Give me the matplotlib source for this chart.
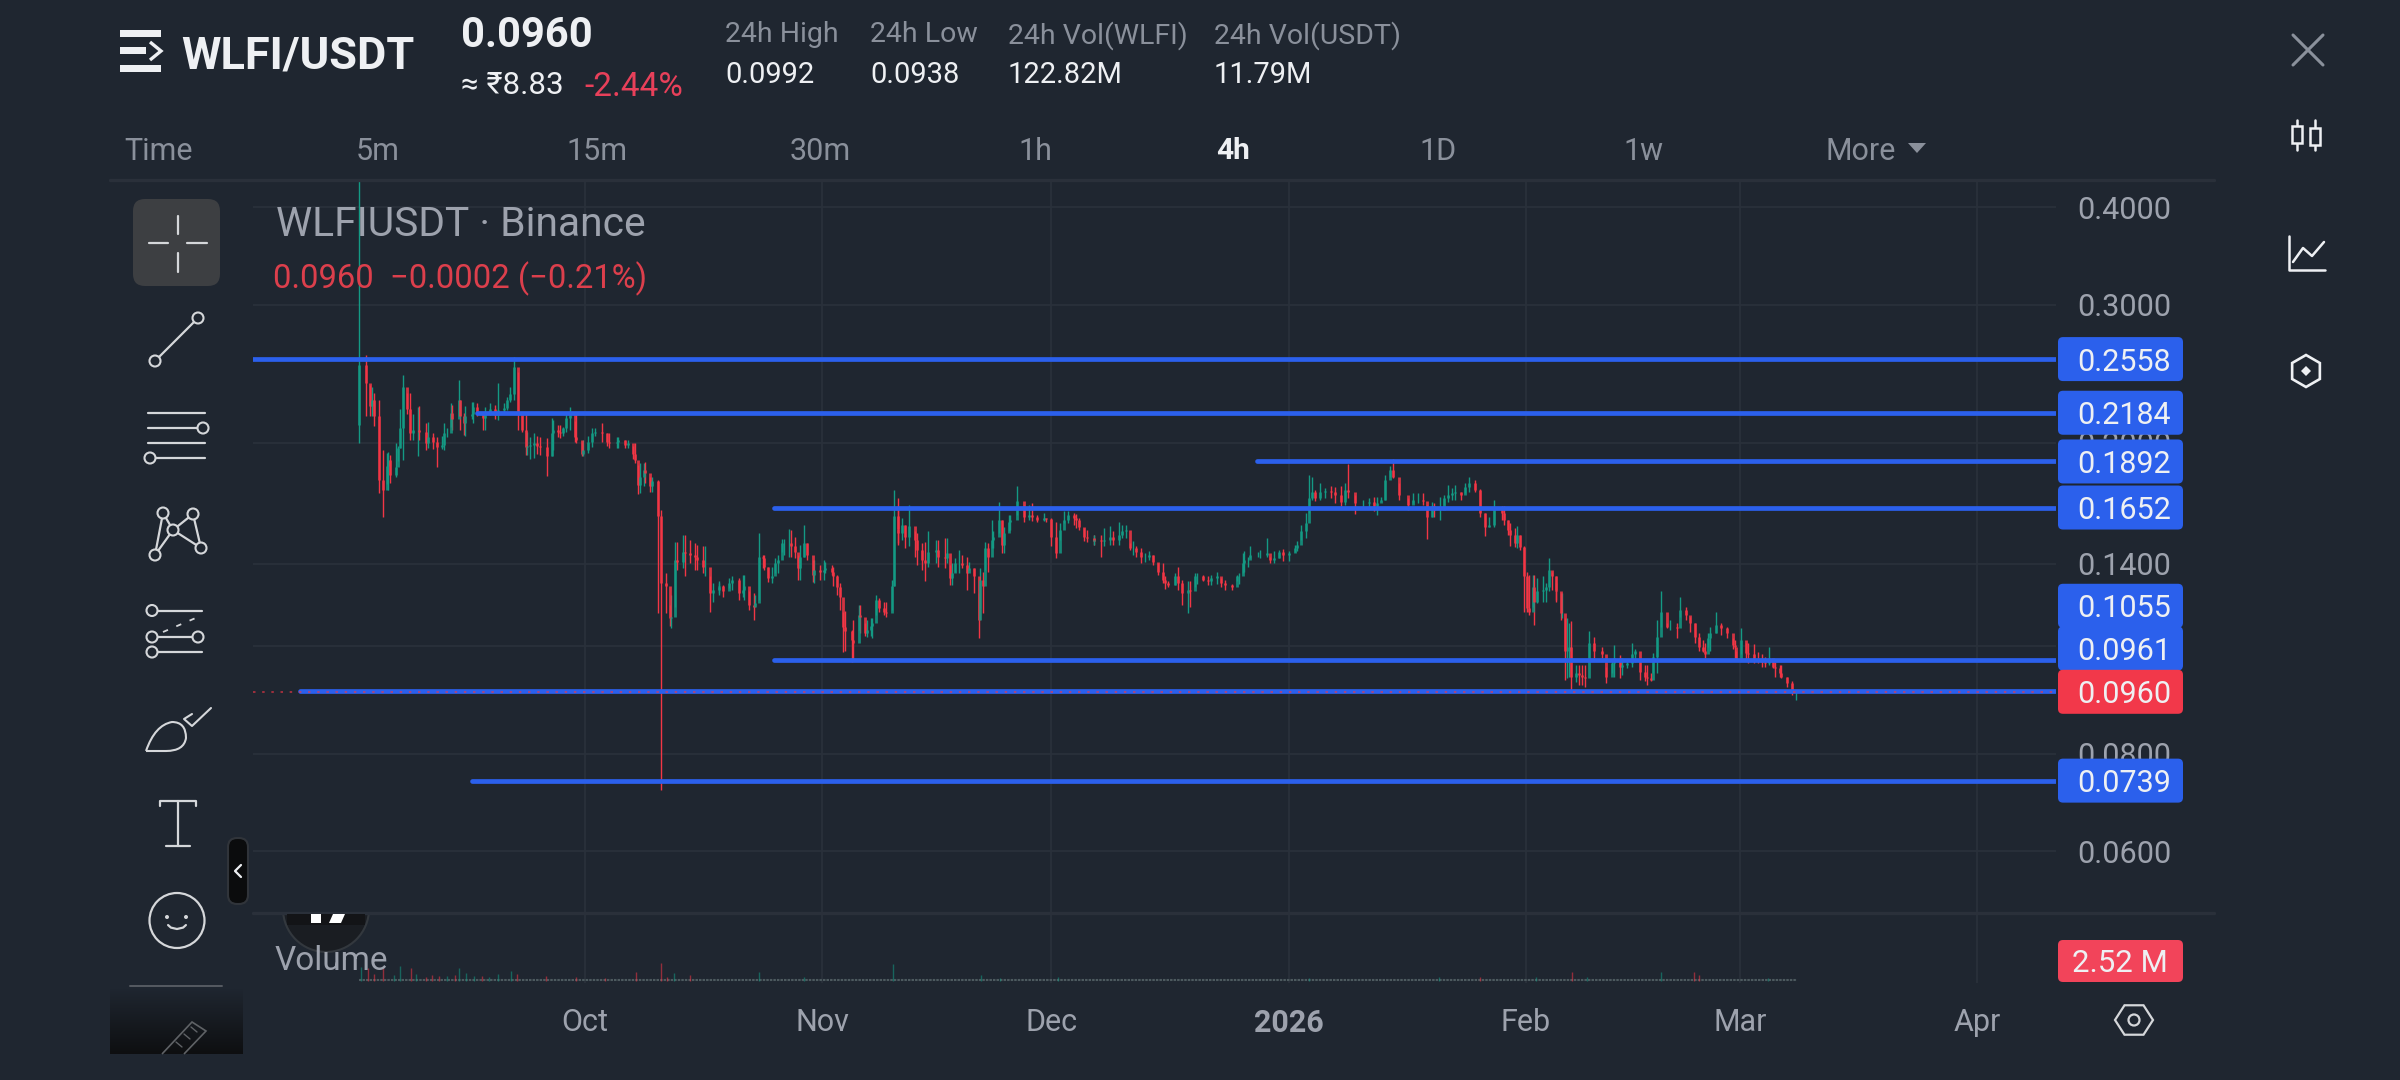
import datetime as dt
import numpy as np
import matplotlib
matplotlib.use("Agg")
import matplotlib.pyplot as plt
import matplotlib.dates as mdates
from matplotlib.patches import FancyBboxPatch, Circle, Wedge, Rectangle, Polygon, PathPatch
from matplotlib.path import Path

plt.rcParams['font.family'] = ['Roboto', 'DejaVu Sans']

# ---------- data ----------
candle_days = [0.0,0.9,1.7,2.6,3.1,3.8,4.8,5.7,6.7,7.7,8.8,10.2,11.1,12.0,13.0,13.7,14.9,16.4,18.1,19.3,
 20.3,20.8,21.8,22.8,23.7,24.5,25.4,26.3,27.5,28.4,29.2,30.4,31.8,32.7,33.9,35.1,36.0,36.7,37.4,38.3,
 39.1,39.5,40.1,40.8,41.3,42.6,43.9,45.2,45.9,47.1,48.8,50.3,51.6,52.3,52.9,54.0,54.7,55.6,56.4,57.6,
 58.2,59.5,60.8,62.0,62.9,63.3,64.6,65.5,66.4,67.1,67.5,68.9,69.6,69.9,70.4,71.9,72.9,74.0,75.7,76.8,
 77.5,78.4,79.5,80.4,81.0,81.5,82.2,82.7,83.7,84.3,85.1,86.0,
 88.0,89.8,91.1,91.6,92.7,93.7,94.8,96.0,97.0,98.2,99.3,100.3,101.2,102.2,103.3,104.4,105.4,106.6,107.5,108.3,
 109.5,110.9,112.1,113.2,114.1,115.0,115.7,116.5,117.7,118.7,119.6,120.8,121.6,122.6,123.8,124.2,124.5,125.6,127.0,128.4,
 129.2,130.2,132.0,133.1,134.1,134.8,135.2,135.9,137.1,138.4,139.6,140.5,141.3,142.3,143.3,144.0,145.1,145.8,146.5,147.2,
 148.4,149.4,150.4,151.3,152.2,152.9,153.6,154.7,155.5,156.4,157.2,157.9,158.4,159.5,160.2,160.7,161.4,162.5,163.0,164.0,
 165.1,166.4,167.4,168.3,168.8,169.6,170.2,171.3,172.2,172.7,173.4,174.6,175.6,175.9,176.6,177.4,178.8,179.8,180.6,181.5,
 182.3,183.4,184.3,185.1,185.9,186.6,187.3,187.8]
highs = [.46,.2589,.2358,.2268,.1957,.1947,.1996,.2441,.2313,.2224,.2117,.2036,.2117,.2246,.2405,.2181,.2257,.2224,.2382,.2290,
 .2572,.2465,.2181,.2056,.2036,.2026,.2138,.2107,.2224,.2181,.2016,.2086,.2122,.2056,.2036,.2016,.1996,.1882,.1888,.1809,
 .1792,.1640,.1361,.1277,.1494,.1524,.1487,.1473,.1349,.1329,.1352,.1356,.1283,.1534,.1437,.1388,.1437,.1504,.1545,.1480,
 .1567,.1416,.1416,.1388,.1323,.1216,.1186,.1240,.1186,.1192,.1277,.1252,.1336,.1740,.1697,.1665,.1534,.1494,.1501,.1509,
 .1402,.1458,.1430,.1382,.1283,.1368,.1487,.1593,.1680,.1562,.1618,.1762,
 .1673,.1602,.1584,.1578,.1635,.1621,.1555,.1524,.1524,.1565,.1584,.1570,.1495,.1466,.1452,.1405,.1349,.1364,.1336,.1329,
 .1361,.1349,.1368,.1336,.1320,.1361,.1452,.1476,.1459,.1509,.1452,.1462,.1452,.1495,.1625,.1818,.1809,.1775,.1758,.1758,
 .1880,.1714,.1697,.1702,.1818,.1868,.1906,.1775,.1697,.1726,.1665,.1673,.1705,.1766,.1766,.1730,.1806,.1791,.1747,.1625,
 .1690,.1660,.1578,.1565,.1473,.1355,.1355,.1349,.1423,.1349,.1283,.1193,.1181,.1039,.1039,.1148,.1129,.1096,.1034,.1102,
 .1060,.1107,.1060,.1039,.1014,.1186,.1292,.1186,.1175,.1270,.1234,.1175,.1118,.1107,.1163,.1216,.1163,.1118,.1158,.1107,
 .1105,.1073,.1096,.1049,.1039,.1004,.0990,.0960]
lows = [.1996,.2160,.2160,.1722,.1606,.1740,.1809,.1900,.2016,.1920,.1957,.1864,.1957,.2097,.2160,.2046,.2117,.2076,.2138,.2202,
 .2268,.2076,.1929,.1910,.1929,.1813,.1957,.2026,.2076,.1996,.1923,.1976,.2006,.1966,.1966,.1966,.1882,.1722,.1775,.1731,
 .1212,.0719,.1212,.1158,.1234,.1349,.1375,.1349,.1216,.1277,.1297,.1258,.1186,.1258,.1375,.1323,.1361,.1437,.1430,.1336,
 .1430,.1323,.1336,.1310,.1222,.1078,.1058,.1141,.1129,.1124,.1204,.1198,.1222,.1310,.1480,.1473,.1395,.1329,.1388,.1402,
 .1315,.1361,.1297,.1283,.1126,.1212,.1368,.1466,.1531,.1444,.1545,.1618,
 .1587,.1584,.1424,.1502,.1578,.1555,.1495,.1480,.1430,.1480,.1480,.1509,.1437,.1405,.1416,.1355,.1299,.1315,.1240,.1212,
 .1320,.1315,.1320,.1294,.1297,.1320,.1368,.1423,.1423,.1430,.1405,.1413,.1413,.1452,.1509,.1625,.1690,.1690,.1697,.1660,
 .1697,.1621,.1648,.1616,.1690,.1809,.1800,.1690,.1641,.1673,.1507,.1608,.1592,.1680,.1690,.1690,.1730,.1730,.1608,.1521,
 .1562,.1592,.1473,.1466,.1216,.1204,.1169,.1252,.1292,.1252,.1193,.0999,.0965,.0980,.0975,.1060,.1060,.1060,.0985,.1004,
 .1009,.1034,.0995,.0980,.0990,.1014,.1163,.1152,.1124,.1198,.1186,.1107,.1078,.1060,.1084,.1141,.1124,.1060,.1073,.1044,
 .1044,.1034,.1039,.1004,.0999,.0975,.0951,.0938]
closes = [.2514,.2382,.2268,.1792,.1740,.1900,.1864,.2358,.2056,.2076,.1996,.1976,.2056,.2181,.2268,.2117,.2224,.2181,.2202,.2268,
 .2502,.2181,.1976,.1996,.1976,.1920,.2076,.2056,.2181,.2016,.1957,.2056,.2056,.1996,.2016,.1996,.1900,.1809,.1827,.1784,
 .1611,.1323,.1310,.1198,.1416,.1444,.1430,.1388,.1283,.1310,.1336,.1310,.1234,.1430,.1388,.1349,.1416,.1487,.1473,.1430,
 .1487,.1375,.1375,.1349,.1271,.1163,.1108,.1198,.1152,.1175,.1258,.1210,.1310,.1611,.1550,.1565,.1458,.1402,.1430,.1444,
 .1361,.1402,.1361,.1349,.1186,.1310,.1430,.1501,.1593,.1531,.1593,.1682,
 .1608,.1595,.1444,.1547,.1616,.1592,.1516,.1495,.1495,.1516,.1524,.1547,.1466,.1430,.1437,.1368,.1323,.1349,.1283,.1297,
 .1349,.1329,.1349,.1315,.1309,.1349,.1416,.1437,.1437,.1444,.1423,.1437,.1444,.1480,.1578,.1697,.1730,.1730,.1730,.1680,
 .1730,.1673,.1680,.1673,.1791,.1845,.1809,.1714,.1665,.1690,.1608,.1641,.1641,.1714,.1730,.1714,.1775,.1738,.1625,.1562,
 .1648,.1625,.1524,.1524,.1349,.1216,.1252,.1297,.1375,.1297,.1210,.1084,.1004,.1009,.0999,.1107,.1084,.1073,.1004,.1060,
 .1039,.1073,.1019,.0999,.0995,.1129,.1216,.1163,.1158,.1222,.1204,.1129,.1084,.1073,.1141,.1169,.1141,.1096,.1118,.1073,
 .1058,.1049,.1060,.1029,.1004,.0985,.0960,.0960]

extra_days = [1.4,1.96,3.6,4.05,5.05,5.4,6.2,7.0,7.85,9.06,9.7,10.8,11.5,12.1,13.2,13.9,14.7,15.4,16.2,17.1,17.7,18.9,19.7,
 21.3,21.9,22.3,23.3,25.2,26.05,26.7,27.06,28.2,29.1,29.95,30.85,32.4,33.7,34.8,35.85,36.5,37.2,38.0,
 40.65,41.5,42.4,43.3,44.1,45.0,46.3,47.0,47.6,48.3,49.6,50.2,51.0,51.8,52.85,53.5,54.4,55.25,56.25,57.0,57.4,58.5,59.3,60.2,60.9,61.8,62.45,
 63.5,64.4,65.4,66.15,66.9,67.9,68.6,70.45,70.9,71.4,72.6,73.6,74.4,75.4,76.6,77.25,77.9,78.8,79.7,81.2,81.8,82.8,84.0,84.9,
 86.85,87.5,88.6,89.5,90.5,92.1,93.4,94.1,95.1,96.05,97.3,98.6,99.7,100.75,101.6,102.7,103.8,105.1,105.7,107.05,108.6,109.2,110.3,111.4,112.7,
 114.7,115.5,116.2,117.5,119.1,120.3,122.3,123.1,124.9,126.2,127.5,128.8,131.2,132.7,133.6,
 137.8,139.06,140.2,141.75,142.8,144.6,147.75,149.6,150.2,151.1,151.7,152.6,153.5,154.0,155.1,155.9,156.5,157.05,157.6,158.2,159.1,159.9,
 163.7,164.8,165.7,166.75,168.05,169.1,170.9,173.9,175.2,176.3,178.05,179.6,180.0,181.3,182.85,183.7,184.8,185.7]
extra_highs = [.2370,.2314,.1938,.1929,.1978,.2206,.2315,.2178,.2230,.2125,.2059,.2037,.2085,.2235,.2270,.2230,.2256,.2245,.2175,.2245,.2235,.2245,.2358,
 .2160,.2066,.2033,.2037,.2150,.2107,.2095,.2178,.2133,.2006,.2037,.2085,.2059,.2033,.2016,.1978,.1873,.1886,.1810,
 .1240,.1494,.1524,.1502,.1480,.1476,.1322,.1322,.1315,.1342,.1342,.1355,.1290,.1277,.1437,.1388,.1423,.1504,.1551,.1516,.1437,.1487,.1416,.1395,.1409,.1395,.1355,
 .1218,.1152,.1240,.1175,.1192,.1264,.1252,.1640,.1600,.1570,.1540,.1487,.1540,.1502,.1509,.1395,.1423,.1437,.1409,.1382,.1494,.1540,.1593,.1616,
 .1665,.1665,.1616,.1624,.1600,.1633,.1624,.1600,.1547,.1524,.1555,.1540,.1570,.1487,.1473,.1444,.1437,.1402,.1329,.1388,.1329,.1361,.1355,.1355,.1342,
 .1355,.1444,.1430,.1451,.1430,.1459,.1480,.1570,.1740,.1749,.1757,.1775,.1690,.1705,.1705,
 .1723,.1723,.1677,.1714,.1749,.1775,.1608,.1657,.1592,.1555,.1524,.1368,.1355,.1342,.1322,.1368,.1322,.1283,.1192,.1175,.1039,.1039,
 .1058,.1070,.1053,.1090,.1039,.1077,.1175,.1198,.1140,.1140,.1175,.1124,.1084,.1108,.1078,.1065,.1053,.1039]
extra_lows = [.2160,.2098,.1768,.1775,.1894,.1971,.2178,.2016,.2016,.1971,.1961,.1961,.2031,.2076,.2076,.2039,.2141,.2160,.2076,.2170,.2141,.2175,.2256,
 .2066,.1929,.1908,.1936,.1920,.2031,.2037,.2066,.2006,.1920,.1938,.2037,.1978,.1971,.1971,.1908,.1717,.1762,.1727,
 .1164,.1375,.1382,.1402,.1375,.1362,.1252,.1283,.1271,.1302,.1258,.1271,.1222,.1238,.1382,.1328,.1362,.1451,.1430,.1423,.1335,.1416,.1328,.1335,.1362,.1355,.1277,
 .1083,.1049,.1152,.1130,.1130,.1216,.1204,.1489,.1502,.1465,.1430,.1375,.1388,.1402,.1382,.1315,.1368,.1382,.1375,.1228,.1375,.1465,.1444,.1540,
 .1585,.1592,.1585,.1589,.1473,.1577,.1570,.1547,.1494,.1480,.1473,.1480,.1509,.1459,.1430,.1409,.1395,.1322,.1309,.1296,.1234,.1309,.1329,.1315,.1309,
 .1329,.1361,.1388,.1427,.1405,.1423,.1451,.1502,.1682,.1697,.1673,.1665,.1657,.1633,.1682,
 .1673,.1665,.1608,.1665,.1690,.1723,.1562,.1570,.1524,.1470,.1459,.1216,.1234,.1246,.1252,.1296,.1258,.1186,.0995,.1004,.0989,.0980,
 .1014,.0999,.1029,.1048,.0990,.1014,.1157,.1145,.1084,.1096,.1135,.1090,.1053,.1053,.1044,.1034,.1029,.1004]
extra_closes = [.2230,.2160,.1865,.1818,.1971,.2085,.2206,.2076,.2066,.2033,.2003,.1986,.2059,.2141,.2160,.2160,.2175,.2187,.2150,.2206,.2170,.2215,.2309,
 .2076,.1978,.1986,.1978,.2059,.2066,.2085,.2150,.2033,.1936,.2006,.2066,.2003,.2003,.1986,.1936,.1766,.1845,.1762,
 .1192,.1409,.1451,.1437,.1416,.1388,.1296,.1309,.1290,.1322,.1283,.1296,.1240,.1246,.1423,.1342,.1402,.1487,.1487,.1451,.1382,.1437,.1355,.1368,.1382,.1368,.1309,
 .1147,.1118,.1204,.1141,.1164,.1228,.1216,.1531,.1570,.1516,.1502,.1416,.1451,.1458,.1423,.1342,.1402,.1395,.1382,.1335,.1465,.1516,.1480,.1585,
 .1608,.1616,.1592,.1600,.1516,.1592,.1600,.1562,.1509,.1502,.1502,.1502,.1540,.1466,.1451,.1430,.1409,.1335,.1315,.1322,.1290,.1349,.1335,.1342,.1322,
 .1349,.1402,.1416,.1437,.1416,.1451,.1466,.1540,.1697,.1732,.1714,.1740,.1673,.1657,.1690,
 .1690,.1682,.1657,.1697,.1723,.1757,.1570,.1592,.1547,.1487,.1470,.1228,.1309,.1290,.1309,.1349,.1290,.1210,.1084,.1096,.1014,.1004,
 .1044,.1034,.1044,.1084,.1004,.1065,.1163,.1175,.1096,.1124,.1157,.1102,.1058,.1075,.1053,.1044,.1034,.1014]
first_open = .2107
assert len(candle_days) == len(highs) == len(lows) == len(closes)
assert len(extra_days) == len(extra_highs) == len(extra_lows) == len(extra_closes), (len(extra_days), len(extra_highs), len(extra_lows), len(extra_closes))

vol_days = [0.2,1.1,2.0,3.1,4.5,5.4,6.8,7.5,8.7,9.5,10.4,11.5,12.5,13.1,14,15,16,17,18.2,19.9,20.7,24.4,28.4,32.2,36.2,
            39.5,40.2,41.2,43.2,52.3,58.2,69.8,81.3,83.8,91.4,124.2,141.2,146.5,153.8,158.5,160.5,170.2,174.5,175.2,184.1]
vol_vals = [420,390,200,390,180,450,390,210,120,180,150,150,180,390,240,150,150,120,210,300,210,150,120,90,270,
            540,120,240,180,270,120,510,180,90,120,90,120,120,120,270,120,270,270,180,90]
typical_vol = 60
first_day, last_day = 0.0, 188.0

level_prices = [.2558,.2184,.1892,.1652,.1055,.0961,.0739]
level_start_days = [-14.0,15.4,117.3,54.2,54.2,-7.7,14.8]
last_price = .0960

tag_labels = ['0.2558','0.2184','0.1892','0.1652','0.1055','0.0961','0.0960','0.0739']
tag_prices = [.2558,.2184,.1892,.1652,.1055,.0961,.0960,.0739]
tag_shift = [0,0,0,0,-54,-43,0,0]
tag_colors = ['b','b','b','b','b','b','r','b']

y_ticks = [.4,.3,.2,.14,.11,.08,.06]
y_tick_labels = ['0.4000','0.3000','0.2000','0.1400','0.1100','0.0800','0.0600']
month_dates = [dt.datetime(2025,10,1),dt.datetime(2025,11,1),dt.datetime(2025,12,1),dt.datetime(2026,1,1),
               dt.datetime(2026,2,1),dt.datetime(2026,3,1),dt.datetime(2026,4,1)]
month_labels = ['Oct','Nov','Dec','2026','Feb','Mar','Apr']
intervals = ['Time','5m','15m','30m','1h','4h','1D','1w','More']
interval_x = [124,356,566,790,1018,1216,1419,1623,1825]
stat_heads = ['24h High','24h Low','24h Vol(WLFI)','24h Vol(USDT)']
stat_vals = ['0.0992','0.0938','122.82M','11.79M']
stat_x = [725,870,1008,1214]

# ---------- style ----------
BG = '#1f2630'; GRID = '#2a313b'; SEP = '#2a303a'
BLUE = '#2b60ec'; RED = '#f23645'; TEAL = '#149a84'
GRAY = '#9da2ad'; DIM = '#8a909b'; WHITE = '#eef0f3'; ICON = '#d5d7da'

W, H = 2400, 1080
fig = plt.figure(figsize=(24, 10.8), dpi=100, facecolor=BG)
L, R, T, B, VB = 253, 2056, 180, 913, 983
ax = fig.add_axes([L/W, 1-B/H, (R-L)/W, (B-T)/H], facecolor=BG)
axv = fig.add_axes([L/W, 1-VB/H, (R-L)/W, (VB-B)/H], facecolor='none')

base = mdates.date2num(dt.datetime(2025, 9, 1, 12))
to_x = lambda d: base + np.asarray(d, float)
xlim = (to_x(-13.87), to_x(221.8))

# ---------- price pane ----------
ax.set_yscale('log')
ax.set_ylim(0.05004, 0.4335)
ax.set_xlim(*xlim)
for s in ax.spines.values():
    s.set_visible(False)
ax.yaxis.tick_right()
ax.set_yticks(y_ticks)
ax.set_yticklabels(y_tick_labels)
ax.yaxis.set_minor_locator(matplotlib.ticker.NullLocator())
ax.tick_params(axis='y', length=0, pad=15, labelsize=22, labelcolor=GRAY)
ax.set_xticks(mdates.date2num(month_dates))
ax.tick_params(axis='x', length=0, labelbottom=False)
ax.grid(True, color=GRID, lw=1.2, zorder=0)
ax.set_axisbelow(True)

all_days = np.r_[candle_days, extra_days]
order = np.argsort(all_days)
days_sorted = all_days[order]
h = np.r_[highs, extra_highs][order]
l = np.r_[lows, extra_lows][order]
c = np.r_[closes, extra_closes][order]
o = np.r_[first_open, c[:-1]]
x = to_x(days_sorted)
cols = [TEAL if cc >= oo else RED for cc, oo in zip(c, o)]
ax.vlines(x, l, h, colors=cols, lw=1.0, zorder=3)
ax.vlines(x, np.minimum(o, c), np.maximum(o, c), colors=cols, lw=2.0, zorder=3, alpha=0.85)

for p, s in zip(level_prices, level_start_days):
    ax.plot([to_x(s), xlim[1]], [p, p], color=BLUE, lw=3.4, solid_capstyle='round', zorder=4)
ax.plot(xlim, [last_price, last_price], color=RED, lw=1.2, ls=(0, (1.5, 4)), zorder=5, alpha=0.7)

# ---------- volume pane ----------
axv.set_xlim(*xlim)
axv.set_ylim(-60, 2040)
for s in axv.spines.values():
    s.set_visible(False)
axv.set_yticks([])
axv.set_xticks(mdates.date2num(month_dates))
axv.set_xticklabels(month_labels)
axv.tick_params(axis='x', length=0, pad=18, labelsize=22, labelcolor=GRAY)
axv.get_xticklabels()[3].set_fontweight('bold')
axv.grid(True, axis='x', color=GRID, lw=1.2, zorder=0)
axv.set_axisbelow(True)
axv.plot(to_x([first_day, last_day]), [typical_vol/2]*2, color='#4d5a5f', lw=1.5, ls=(0, (1.2, 0.5)), zorder=2)
near = [cols[int(np.argmin(np.abs(days_sorted-d)))] for d in vol_days]
axv.vlines(to_x(vol_days), 0, vol_vals, colors=near, lw=1.0, alpha=0.55, zorder=3)

# ---------- overlay (interface) ----------
ui = fig.add_axes([0, 0, 1, 1], facecolor='none', zorder=10)
ui.set_xlim(0, W); ui.set_ylim(H, 0); ui.axis('off')

def px_y(p):
    return H - ax.transData.transform((xlim[0], p))[1]

def txt(xp, yp, s, size, color, weight='normal', ha='left'):
    ui.text(xp, yp, s, fontsize=size, color=color, fontweight=weight, ha=ha, va='center_baseline')

def seg(pts, lw=1.6, color=ICON, **kw):
    pts = np.array(pts)
    ui.plot(pts[:, 0], pts[:, 1], color=color, lw=lw, solid_capstyle='round', **kw)

def ring(xp, yp, r=6.5, lw=1.5):
    ui.add_patch(Circle((xp, yp), r, fc=BG, ec=ICON, lw=lw, zorder=6))

# separators
seg([(110, T), (2214, T)], lw=2.4, color=SEP)
seg([(L, B), (2214, B)], lw=2.4, color=SEP)

# header
for yy, xe in [(33.5, 161), (68, 161)]:
    ui.add_patch(Rectangle((120, yy-3.5), xe-120, 7, fc=WHITE, ec='none'))
ui.add_patch(Rectangle((120, 47), 26, 7, fc=WHITE, ec='none'))
ui.add_patch(Polygon([(150, 42), (161, 51), (150, 60)], closed=False, fill=False, ec=WHITE, lw=2.4))
txt(181, 52, 'WLFI/USDT', 32.5, WHITE, 'bold')
txt(461, 31, '0.0960', 30, WHITE, 'bold')
txt(461, 83, '≈ ₹8.83', 22.5, WHITE)
txt(584, 83, '-2.44%', 24, '#e8405a')
for xp, a, b in zip(stat_x, stat_heads, stat_vals):
    txt(xp, 32, a, 20.5, DIM)
    txt(xp, 72, b, 21, WHITE)
for xp, s in zip(interval_x, intervals):
    if s == '4h':
        txt(xp, 148, s, 21.5, WHITE, 'bold')
    else:
        txt(xp, 148, s, 22, DIM)
ui.add_patch(Polygon([(1908, 143), (1926, 143), (1917, 153)], fc=DIM, ec='none'))
seg([(2293, 35), (2323, 65)], lw=2.2, color=DIM)
seg([(2293, 65), (2323, 35)], lw=2.2, color=DIM)

# chart legend
txt(276, 221, 'WLFIUSDT · Binance', 29.3, GRAY)
txt(273, 275, '0.0960  −0.0002 (−0.21%)', 23.6, '#dc3f4c')
txt(275, 957, 'Volume', 24, GRAY)

# price tags
for lab, p, sh, col in zip(tag_labels, tag_prices, tag_shift, tag_colors):
    yc = px_y(p) + sh
    ui.add_patch(FancyBboxPatch((2058, yc-22), 125, 44, boxstyle='round,pad=0,rounding_size=5',
                                fc=BLUE if col == 'b' else '#f2384a', ec='none', zorder=6))
    ui.text(2077, yc, lab, fontsize=22, color=WHITE, va='center_baseline', zorder=7)
ui.add_patch(FancyBboxPatch((2058, 940), 125, 42, boxstyle='round,pad=0,rounding_size=5',
                            fc='#f2445a', ec='none', zorder=6))
ui.text(2072, 961, '2.52 M', fontsize=22.5, color=WHITE, va='center_baseline', zorder=7)

# left toolbar
ui.add_patch(FancyBboxPatch((133, 199), 87, 87, boxstyle='round,pad=0,rounding_size=12', fc='#3d3f42', ec='none'))
seg([(149, 243), (168, 243)], color=ICON, lw=1.6)
seg([(187, 243), (207, 243)], color=ICON, lw=1.6)
seg([(178, 216), (178, 234)], color=ICON, lw=1.6)
seg([(178, 253), (178, 272)], color=ICON, lw=1.6)

seg([(155, 361), (198, 318)])
ring(155, 361, 5.5); ring(198, 318, 5.5)

for yy in (412.5, 427.5, 443, 458):
    seg([(148, yy), (205, yy)])
ring(203, 428, 5.5); ring(150, 458, 5.5)

nodes = [(163, 513), (193, 514), (173, 530), (155, 555), (201, 548)]
for a, b in [(0, 2), (0, 3), (1, 2), (1, 4), (2, 3), (2, 4)]:
    seg([nodes[a], nodes[b]])
for n in nodes:
    ring(*n, 5.5)

for yy in (610.5, 637, 652):
    seg([(152, yy), (202, yy)])
ring(152, 610.5, 5.5); ring(152, 637, 5.5); ring(198, 637, 5.5); ring(152, 652, 5.5)
seg([(163, 632), (198, 617)], lw=1.3, ls=(0, (3, 5)))

verts = [(146, 751), (155, 725), (172, 722), (186, 722), (186, 738), (184, 751), (166, 751), (146, 751)]
codes = [Path.MOVETO, Path.CURVE3, Path.CURVE3, Path.CURVE3, Path.CURVE3, Path.CURVE3, Path.CURVE3, Path.LINETO]
ui.add_patch(PathPatch(Path(verts, codes), fc='none', ec=ICON, lw=1.5))
seg([(192, 714), (184, 719), (192, 726), (211, 708)], lw=1.5)

seg([(160, 806), (160, 801), (196, 801), (196, 806)], lw=1.6)
seg([(178, 801), (178, 846)], lw=1.6)
seg([(166, 846), (190, 846)], lw=1.6)

ui.add_patch(Circle((177, 920.5), 27.5, fc='none', ec=ICON, lw=1.6))
ui.add_patch(Circle((167, 917), 2, fc=ICON, ec='none'))
ui.add_patch(Circle((186, 917), 2, fc=ICON, ec='none'))
th = np.radians(np.array([20, 50, 90, 130, 160]))
seg(np.c_[177+9.5*np.cos(th), 923+6*np.sin(th)], lw=1.6)

seg([(130, 986), (222, 986)], lw=1.4, color='#565b62')
grad = np.linspace(0, 1, 64)[:, None, None] * (np.array([14, 15, 17])/255 - np.array([31, 38, 48])/255) + np.array([31, 38, 48])/255
ui.imshow(grad, extent=(110, 243, 1054, 988), aspect='auto', zorder=1)
ui.set_xlim(0, W); ui.set_ylim(H, 0)
ruler_xy = [(162, 1054), (192, 1022), (206, 1031), (184, 1054)]
ui.add_patch(Polygon(ruler_xy, closed=False, fill=False, ec='#5f6266', lw=1.2, zorder=2))
for a0, b0, a1, b1 in [(176, 1042, 182, 1047), (184, 1034, 190, 1039), (191, 1027, 197, 1032)]:
    seg([(a0, b0), (a1, b1)], lw=1.0, color='#5f6266', zorder=2)

ui.add_patch(FancyBboxPatch((228, 838), 20, 66, boxstyle='round,pad=0,rounding_size=9', fc='#0b0c0d', ec='#30343a', lw=1.5))
seg([(241, 865), (235, 871), (241, 877)], lw=1.6, color=WHITE)

# logo peeking out under the pane line
ui.add_patch(Wedge((326, 909), 43, 0, 180, fc='#1a1d22', ec='#33383e', lw=1.5, zorder=1))
ui.add_patch(Rectangle((287, 914), 78, 11, fc='#131417', ec='none', zorder=2))
ui.add_patch(Rectangle((311, 914), 10, 9, fc='white', ec='none', zorder=3))
ui.add_patch(Polygon([(333, 914), (345, 914), (341, 923), (329, 923)], fc='white', ec='none', zorder=3))
ui.add_patch(Rectangle((275, 905), 120, 7, fc=BG, ec='none', zorder=1))

# right icons
for xc, y0, y1, yb0, yb1 in [(2297, 120, 150, 126, 143), (2315, 120, 150, 128, 145)]:
    seg([(xc, y0), (xc, y1)], lw=1.8, color=WHITE)
    ui.add_patch(Rectangle((xc-5, yb0), 10, yb1-yb0, fc=BG, ec=WHITE, lw=1.8, zorder=5))
seg([(2289, 236), (2289, 270), (2325, 270)], lw=1.8, color=WHITE)
seg([(2293, 262), (2303, 248), (2312, 256), (2324, 242)], lw=1.8, color=WHITE)

def hexagon(xc, yc, r, lw, col):
    a = np.radians(np.arange(-90, 270, 60))
    ui.add_patch(Polygon(np.c_[xc+r*np.cos(a), yc+r*np.sin(a)], closed=True, fill=False, ec=col, lw=lw))
    ui.add_patch(Polygon([(xc-5, yc), (xc, yc-5), (xc+5, yc), (xc, yc+5)], fc=col, ec='none'))

hexagon(2306, 371, 16, 1.9, WHITE)
a = np.radians(np.arange(0, 360, 60))
ui.add_patch(Polygon(np.c_[2134+19*np.cos(a), 1020+17*np.sin(a)], closed=True, fill=False, ec=ICON, lw=1.6))
ui.add_patch(Circle((2134, 1020), 5.5, fc='none', ec=ICON, lw=1.6))

fig.savefig('out.png', dpi=100, facecolor=BG)
